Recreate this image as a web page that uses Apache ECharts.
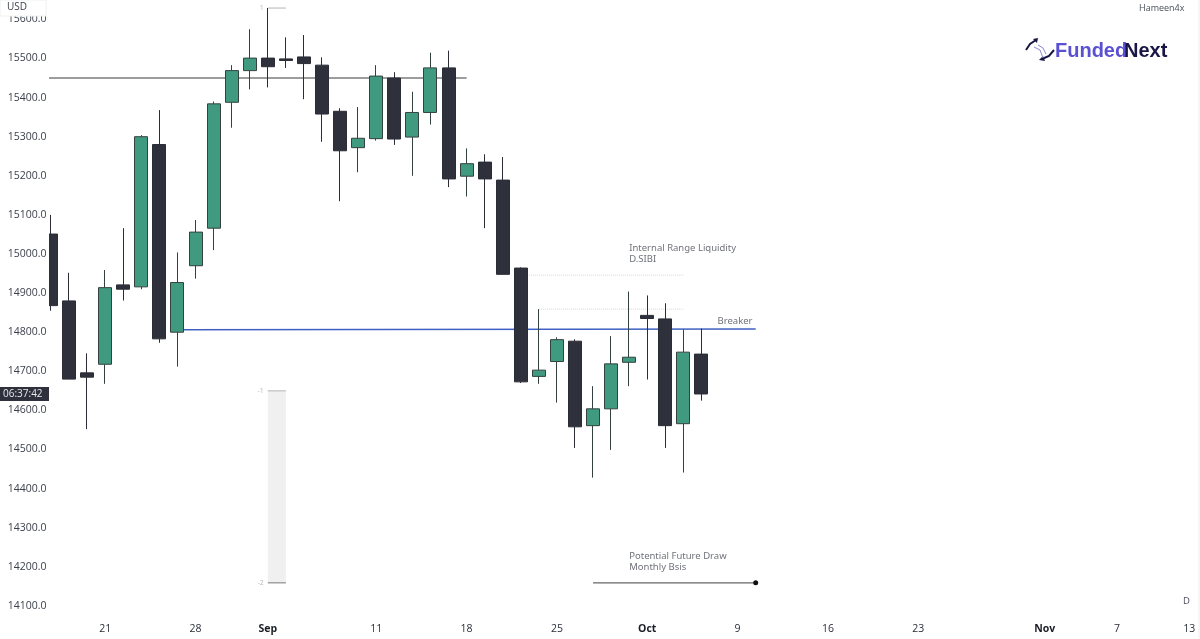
<!DOCTYPE html>
<html>
<head>
<meta charset="utf-8">
<title>FundedNext chart</title>
<script src="https://cdn.jsdelivr.net/npm/echarts@6/dist/echarts.min.js"></script>
<style>
  html, body { margin: 0; padding: 0; background: #fff; }
  #chart { width: 1200px; height: 639px; }
</style>
</head>
<body>
<div id="chart"></div>
<script>
// trading days, one per slot on the time axis
const categories = [
  'Aug 14', 'Aug 15', 'Aug 16', 'Aug 17', 'Aug 18',
  'Aug 21', 'Aug 22', 'Aug 23', 'Aug 24', 'Aug 25',
  'Aug 28', 'Aug 29', 'Aug 30', 'Aug 31', 'Sep 1',
  'Sep 4', 'Sep 5', 'Sep 6', 'Sep 7', 'Sep 8',
  'Sep 11', 'Sep 12', 'Sep 13', 'Sep 14', 'Sep 15',
  'Sep 18', 'Sep 19', 'Sep 20', 'Sep 21', 'Sep 22',
  'Sep 25', 'Sep 26', 'Sep 27', 'Sep 28', 'Sep 29',
  'Oct 2', 'Oct 3', 'Oct 4', 'Oct 5', 'Oct 6',
  'Oct 9', 'Oct 10', 'Oct 11', 'Oct 12', 'Oct 13',
  'Oct 16', 'Oct 17', 'Oct 18', 'Oct 19', 'Oct 20',
  'Oct 23', 'Oct 24', 'Oct 25', 'Oct 26', 'Oct 27',
  'Oct 30', 'Oct 31', 'Nov 1', 'Nov 2', 'Nov 3',
  'Nov 6', 'Nov 7', 'Nov 8', 'Nov 9', 'Nov 10',
  'Nov 13'
]

// which slots get a tick label, and what it says
const tickDays = ['Aug 21', 'Aug 28', 'Sep 1', 'Sep 11', 'Sep 18', 'Sep 25', 'Oct 2', 'Oct 9', 'Oct 16', 'Oct 23', 'Nov 1', 'Nov 7', 'Nov 13']
const tickLabels = ['21', '28', 'Sep', '11', '18', '25', 'Oct', '9', '16', '23', 'Nov', '7', '13']
const monthLabels = ['Sep', 'Oct', 'Nov']

// candles start on Aug 16
const candleStart = 2
const opens = [15051, 14880, 14696, 14718, 14921, 14916, 15280, 14800, 14970, 15066, 15388, 15469, 15501, 15499, 15504, 15483, 15365, 15272, 15295, 15450, 15299, 15362, 15476, 15199, 15235, 15189, 14964, 14687, 14725, 14777, 14561, 14604, 14723, 14843, 14834, 14566, 14744]
const closes = [14868, 14680, 14685, 14914, 14910, 15300, 14783, 14927, 15056, 15384, 15469, 15501, 15479, 15495, 15487, 15358, 15264, 15296, 15455, 15294, 15362, 15476, 15192, 15231, 15192, 14948, 14673, 14703, 14781, 14558, 14604, 14719, 14736, 14835, 14561, 14749, 14642]
const lows = [14855, 14680, 14552, 14668, 14881, 14910, 14773, 14712, 14937, 15010, 15323, 15421, 15426, 15476, 15396, 15287, 15135, 15209, 15290, 15279, 15200, 15331, 15171, 15147, 15066, 14948, 14670, 14668, 14620, 14504, 14428, 14499, 14662, 14679, 14504, 14441, 14625]
const highs = [15100, 14952, 14746, 14959, 15066, 15304, 15368, 15004, 15087, 15390, 15483, 15575, 15629, 15554, 15560, 15503, 15373, 15376, 15483, 15465, 15415, 15515, 15520, 15270, 15255, 15248, 14966, 14859, 14787, 14782, 14662, 14790, 14904, 14894, 14874, 14807, 14809]

// drawn levels: [day, price] pairs
const resistanceLine = [['Aug 15', 15450], ['Sep 18', 15450]]
const breakerLine = [['Aug 25', 14806], ['Oct 10', 14808]]
const sibiTop = [['Sep 21', 14946], ['Oct 4', 14946]]
const sibiBottom = [['Sep 22', 14859], ['Oct 4', 14859]]
const drawLine = [['Sep 27', 14159], ['Oct 10', 14159]]
const fibOne = [['Sep 1', 15629], ['Sep 4', 15629]]
const fibMinusOne = [['Sep 1', 14650], ['Sep 4', 14650]]
const fibMinusTwo = [['Sep 1', 14159], ['Sep 4', 14159]]

// chart notes: [day, price, text]
const notes = [
  ['Sep 29', 15000, 'Internal Range Liquidity\nD.SIBI'],
  ['Oct 6', 14827, 'Breaker'],
  ['Sep 29', 14213, 'Potential Future Draw\nMonthly Bsis']
]
const fibNotes = [
  ['Sep 1', 15629, '1'],
  ['Sep 1', 14650, '-1'],
  ['Sep 1', 14159, '-2']
]

const FONT = '"Open Sans", "Noto Sans", sans-serif'

function level(points, color, width, type) {
  return {
    type: 'line',
    z: 1,
    data: points,
    showSymbol: false,
    silent: true,
    lineStyle: { color: color, width: width, type: type || 'solid' }
  }
}

const candleData = categories.map((day, i) => {
  const n = i - candleStart
  if (n < 0 || n >= opens.length) return ['-', '-', '-', '-']
  return [opens[n], closes[n], lows[n], highs[n]]
})

const fibBand = level(fibMinusOne, '#b4b4b4', 1)
fibBand.markArea = {
  silent: true,
  itemStyle: { color: '#f0f0f0' },
  data: [[{ xAxis: 'Sep 1', yAxis: 14650 }, { xAxis: 'Sep 4', yAxis: 14159 }]]
}

const futureDraw = level(drawLine, '#666666', 1.2)
futureDraw.showSymbol = true
futureDraw.symbol = 'none'
futureDraw.data = [drawLine[0], { value: drawLine[1], symbol: 'circle', symbolSize: 5, itemStyle: { color: '#111111' } }]

const myChart = echarts.init(document.getElementById('chart'))
myChart.setOption({
  animation: false,
  backgroundColor: '#ffffff',
  textStyle: { fontFamily: FONT },
  // the 14000 and 15700 ends of the scale fall just off the picture
  grid: { left: 5.8, top: -19.7, width: 1192.6, height: 664.7, outerBoundsMode: 'none', containLabel: false },
  xAxis: {
    type: 'category',
    data: categories,
    boundaryGap: true,
    axisLine: { show: false },
    axisTick: { show: false },
    splitLine: { show: false },
    axisLabel: {
      inside: true,
      margin: 10,
      fontFamily: FONT,
      fontSize: 10.5,
      color: '#2a2e39',
      interval: (index, value) => tickDays.includes(value),
      formatter: (value) => {
        const label = tickLabels[tickDays.indexOf(value)]
        return monthLabels.includes(label) ? '{month|' + label + '}' : label
      },
      rich: { month: { fontFamily: FONT, fontSize: 10.5, fontWeight: 'bold', color: '#1a1d26' } }
    }
  },
  yAxis: {
    type: 'value',
    min: 14000,
    max: 15700,
    interval: 100,
    z: 4,
    axisLine: { show: false },
    axisTick: { show: false },
    splitLine: { show: false },
    axisLabel: {
      inside: true,
      margin: 2,
      padding: [2, 0, 0, 0],
      fontFamily: FONT,
      fontSize: 10.5,
      color: '#3a3f4a',
      formatter: (value) => value.toFixed(1)
    }
  },
  series: [
    fibBand,
    level(resistanceLine, '#7c7c7c', 1.4),
    level(breakerLine, '#3f60c2', 1.5),
    level(sibiTop, '#d4d4d4', 1, 'dotted'),
    level(sibiBottom, '#d4d4d4', 1, 'dotted'),
    level(fibOne, '#b4b4b4', 1),
    level(fibMinusTwo, '#8c8c8c', 1.2),
    futureDraw,
    {
      type: 'candlestick',
      z: 2,
      barWidth: 13.5,
      data: candleData,
      itemStyle: {
        color: '#3f9a80',
        color0: '#2e303b',
        borderColor: '#33423f',
        borderColor0: '#2a2c36',
        borderWidth: 1
      }
    },
    {
      type: 'scatter',
      z: 5,
      symbolSize: 0,
      silent: true,
      data: notes.map((n) => ({ value: [n[0], n[1]], note: n[2] })),
      label: {
        show: true,
        position: 'right',
        distance: 0,
        fontFamily: '"Noto Sans", sans-serif',
        fontSize: 9.5,
        lineHeight: 11,
        color: '#4a4e56',
        formatter: (p) => p.data.note
      },
      labelLayout: (params) => (params.text === 'Breaker' ? { dx: -2 } : {})
    },
    {
      type: 'scatter',
      z: 5,
      symbolSize: 0,
      silent: true,
      data: fibNotes.map((n) => ({ value: [n[0], n[1]], note: n[2] })),
      label: {
        show: true,
        position: 'left',
        distance: 4,
        fontSize: 7,
        color: '#a8a8a8',
        formatter: (p) => p.data.note
      }
    }
  ],
  graphic: [
    // price scale sits on its own white strip, candles stop at its edge
    { type: 'rect', z: 3, silent: true, shape: { x: 0, y: 0, width: 49, height: 639 }, style: { fill: '#ffffff' } },
    { type: 'rect', z: 6, shape: { x: 0, y: 0, width: 46, height: 16 }, style: { fill: '#ffffff', stroke: '#f0f0f0' } },
    { type: 'text', z: 7, x: 7, y: 2, style: { text: 'USD', fill: '#3a3f4a', font: '10px ' + FONT } },
    { type: 'rect', z: 6, shape: { x: 0, y: 387, width: 49, height: 14 }, style: { fill: '#2e303b' } },
    { type: 'text', z: 7, x: 3, y: 389, style: { text: '06:37:42', fill: '#e8e8ec', font: '10px ' + FONT } },
    { type: 'text', z: 7, x: 1139, y: 4, style: { text: 'Hameen4x', fill: '#4a4f58', font: '9px ' + FONT } },
    { type: 'text', z: 7, x: 1183, y: 596, style: { text: 'D', fill: '#4a4f58', font: '9.5px ' + FONT } },
    { type: 'line', z: 7, shape: { x1: 1199, y1: 0, x2: 1199, y2: 639 }, style: { stroke: '#ececec', lineWidth: 1 } },

    // logo
    { type: 'text', z: 7, x: 1055, y: 41, style: { text: 'Funded', fill: '#5a50d2', font: 'bold 20px "Liberation Sans", sans-serif' } },
    { type: 'text', z: 7, x: 1124, y: 41, style: { text: 'Next', fill: '#191645', font: 'bold 20px "Liberation Sans", sans-serif' } },
    { type: 'polyline', z: 7, shape: { points: [[1026, 50], [1030, 44], [1036, 40]] }, style: { fill: 'none', stroke: '#191645', lineWidth: 2 } },
    { type: 'polygon', z: 7, shape: { points: [[1033, 39], [1038, 38], [1037, 43]] }, style: { fill: '#191645' } },
    { type: 'polyline', z: 7, shape: { points: [[1054, 50], [1049, 56], [1042, 59]] }, style: { fill: 'none', stroke: '#191645', lineWidth: 2 } },
    { type: 'polygon', z: 7, shape: { points: [[1045, 61], [1039, 60], [1043, 56]] }, style: { fill: '#191645' } },
    { type: 'polyline', z: 7, shape: { points: [[1034, 47], [1040, 50], [1043, 58]] }, style: { fill: 'none', stroke: '#8d88d8', lineWidth: 1 } },
    { type: 'polyline', z: 7, shape: { points: [[1038, 45], [1043, 48], [1046, 54]] }, style: { fill: 'none', stroke: '#8d88d8', lineWidth: 1 } }
  ]
})
</script>
</body>
</html>
